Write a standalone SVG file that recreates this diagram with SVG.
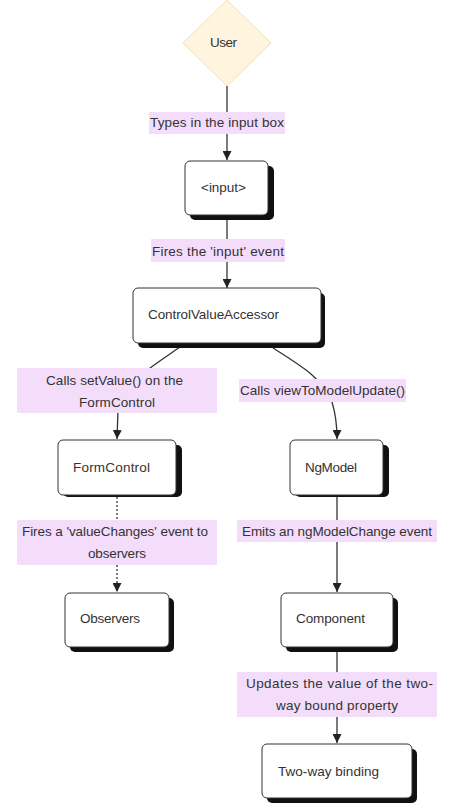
<svg xmlns="http://www.w3.org/2000/svg" width="457" height="812" viewBox="0 0 457 812">
<defs>
<marker id="arr" viewBox="0 0 10 10" refX="10" refY="5" markerWidth="9" markerHeight="9" markerUnits="userSpaceOnUse" orient="auto">
<path d="M0,0 L10,5 L0,10 z" fill="#222"/>
</marker>
</defs>
<style>
text{font-family:"Liberation Sans",Arial,sans-serif;font-size:13.5px;fill:#333}
.lbl{text-anchor:middle}
.bg{fill:#f3ddfb}
.box{fill:#fff;stroke:#333;stroke-width:1}
.sh{fill:#111}
.edge{fill:none;stroke:#333;stroke-width:1.3}
.dot{stroke-dasharray:2 2}
</style>
<rect width="457" height="812" fill="#fff"/>
<g id="connectors">
<path class="edge" d="M227,86 L227,160" marker-end="url(#arr)"/>
<path class="edge" d="M227,220 L227,288" marker-end="url(#arr)"/>
<path class="edge" d="M180,347 C150,368 120,385 118,410 L117,439" marker-end="url(#arr)"/>
<path class="edge" d="M273,348 C300,365 325,380 332,402 C336,415 337,425 337,439" marker-end="url(#arr)"/>
<path class="edge dot" d="M117,497 L117,592" marker-end="url(#arr)"/>
<path class="edge" d="M337,497 L337,592" marker-end="url(#arr)"/>
<path class="edge" d="M337,652 L337,743" marker-end="url(#arr)"/>
</g>
<g id="edge-labels">
<rect class="bg" x="149" y="112" width="136" height="22"/>
<text class="lbl" x="217" y="127" textLength="134" lengthAdjust="spacing">Types in the input box</text>
<rect class="bg" x="151" y="239" width="134" height="23"/>
<text class="lbl" x="218" y="256" textLength="132" lengthAdjust="spacing">Fires the 'input' event</text>
<rect class="bg" x="17" y="368" width="200" height="45"/>
<text class="lbl" x="114.5" y="385" textLength="137" lengthAdjust="spacing">Calls setValue() on the</text>
<text class="lbl" x="117" y="407" textLength="76" lengthAdjust="spacing">FormControl</text>
<rect class="bg" x="239" y="379" width="167" height="23"/>
<text class="lbl" x="322.5" y="395" textLength="165" lengthAdjust="spacing">Calls viewToModelUpdate()</text>
<rect class="bg" x="17" y="520" width="200" height="45"/>
<text class="lbl" x="115" y="536" textLength="186" lengthAdjust="spacing">Fires a 'valueChanges' event to</text>
<text class="lbl" x="117" y="558" textLength="58" lengthAdjust="spacing">observers</text>
<rect class="bg" x="237" y="520" width="200" height="22"/>
<text class="lbl" x="337" y="536" textLength="190" lengthAdjust="spacing">Emits an ngModelChange event</text>
<rect class="bg" x="237" y="672" width="200" height="45"/>
<text class="lbl" x="339.5" y="688" textLength="187" lengthAdjust="spacing">Updates the value of the two-</text>
<text class="lbl" x="337" y="710" textLength="122" lengthAdjust="spacing">way bound property</text>
</g>
<g id="user">
<polygon points="227,0 271,43 227,86 183,43" fill="#fff4dd" stroke="#f2dfb4" stroke-width="1"/>
<text class="lbl" x="223.5" y="47" textLength="27" lengthAdjust="spacing">User</text>
</g>
<g id="input">
<rect class="sh" x="190" y="166" width="84" height="54" rx="5"/>
<rect class="box" x="185" y="161" width="83" height="54" rx="5"/>
<text class="lbl" x="223.5" y="192" textLength="45" lengthAdjust="spacing">&lt;input&gt;</text>
</g>
<g id="cva">
<rect class="sh" x="138" y="293" width="187" height="55" rx="5"/>
<rect class="box" x="133" y="288" width="188" height="55" rx="5"/>
<text class="lbl" x="213.5" y="319" textLength="131" lengthAdjust="spacing">ControlValueAccessor</text>
</g>
<g id="formcontrol">
<rect class="sh" x="63" y="445" width="119" height="52" rx="5"/>
<rect class="box" x="58" y="440" width="118" height="55" rx="5"/>
<text class="lbl" x="111.5" y="472" textLength="77" lengthAdjust="spacing">FormControl</text>
</g>
<g id="ngmodel">
<rect class="sh" x="295" y="445" width="94" height="52" rx="5"/>
<rect class="box" x="290" y="440" width="93" height="55" rx="5"/>
<text class="lbl" x="331" y="472" textLength="52" lengthAdjust="spacing">NgModel</text>
</g>
<g id="observers">
<rect class="sh" x="70" y="598" width="104" height="54" rx="5"/>
<rect class="box" x="65" y="593" width="104" height="54" rx="5"/>
<text class="lbl" x="110" y="623" textLength="60" lengthAdjust="spacing">Observers</text>
</g>
<g id="component">
<rect class="sh" x="286" y="598" width="112" height="54" rx="5"/>
<rect class="box" x="281" y="593" width="112" height="54" rx="5"/>
<text class="lbl" x="330.5" y="623" textLength="69" lengthAdjust="spacing">Component</text>
</g>
<g id="twoway">
<rect class="sh" x="267" y="749" width="150" height="54" rx="5"/>
<rect class="box" x="262" y="744" width="150" height="54" rx="5"/>
<text class="lbl" x="328.5" y="776" textLength="101" lengthAdjust="spacing">Two-way binding</text>
</g>
</svg>
